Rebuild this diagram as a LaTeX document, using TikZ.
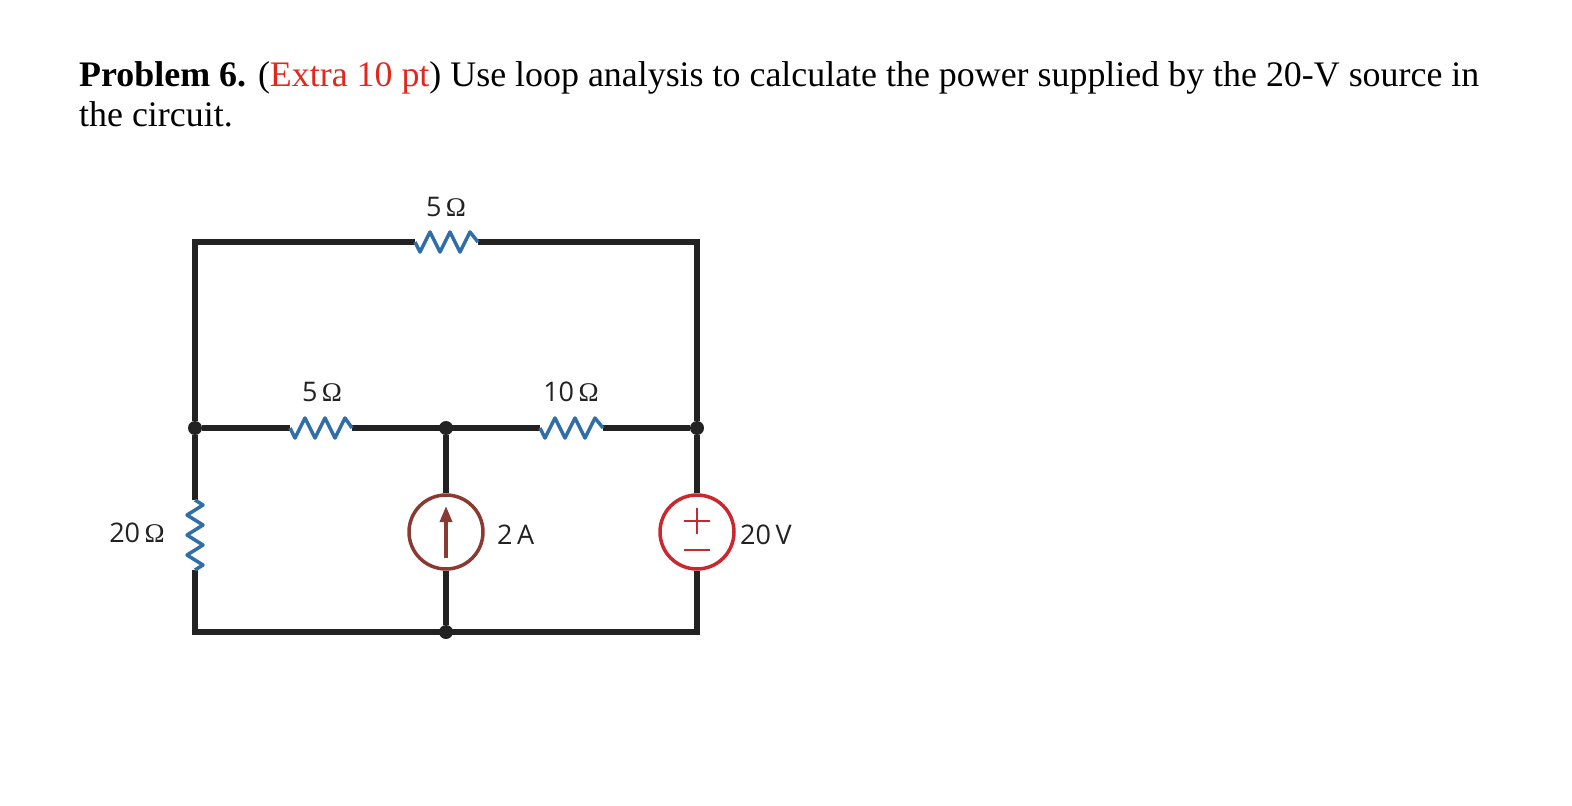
\documentclass[tikz,border=0pt]{standalone}
\usepackage{fontspec}
\setmainfont{Liberation Serif}
\newfontfamily\lab{Open Sans}
\usetikzlibrary{arrows.meta}
\definecolor{wireblk}{HTML}{222222}
\definecolor{resblue}{HTML}{2F6EA8}
\definecolor{isrc}{HTML}{8B3A32}
\definecolor{vsrc}{HTML}{C8282E}
\definecolor{hdrred}{HTML}{E0281E}
\begin{document}
\begin{tikzpicture}[x=1pt,y=-1pt,
  wire/.style={draw=wireblk,line width=5.5pt},
  res/.style={draw=resblue,line width=3.5pt,line join=round},
  dotn/.style={circle,fill=wireblk,inner sep=0pt,minimum size=14pt},
  lbl/.style={font=\lab\fontsize{27}{30}\selectfont,text=wireblk,inner sep=0pt}]
\useasboundingbox (0,0) rectangle (1572,806);
\node[anchor=base west,inner sep=0pt,font=\fontsize{35.9}{43}\selectfont] (hd) at (79,86) {\textbf{Problem 6.} ({\color{hdrred}Extra 10 pt}) Use loop analysis to calculate the power supplied by the 20-V source in};
\node[anchor=base west,inner sep=0pt,font=\fontsize{35.9}{43}\selectfont] (hd2) at (79,126) {the circuit.};
% nodes
\coordinate (TL) at (195,242); \coordinate (TR) at (697,242);
\node[dotn] (ML) at (195,428) {}; \node[dotn] (MM) at (446,428) {}; \node[dotn] (MR) at (697,428) {};
\coordinate (BL) at (195,632); \node[dotn] (BM) at (446,632) {}; \coordinate (BR) at (697,632);
\node[circle,draw=isrc,line width=3.5pt,minimum size=74pt,inner sep=0pt] (I) at (446,532) {};
\node[circle,draw=vsrc,line width=3.5pt,minimum size=74pt,inner sep=0pt] (V) at (697,532) {};
% resistor endpoints
\coordinate (r1a) at (415,242); \coordinate (r1b) at (478,242);
\coordinate (r2a) at (290,428); \coordinate (r2b) at (352,428);
\coordinate (r3a) at (540,428); \coordinate (r3b) at (603,428);
\coordinate (r4a) at (195,500); \coordinate (r4b) at (195,570);
% wires
\draw[wire] (r1a) -- (TL) -- (ML) -- (r4a);
\draw[wire] (r4b) -- (BL) -- (BR) -- (V.south);
\draw[wire] (r1b) -- (TR) -- (MR) -- (V.north);
\draw[wire] (ML) -- (r2a); \draw[wire] (r2b) -- (r3a); \draw[wire] (r3b) -- (MR);
\draw[wire] (MM) -- (I.north); \draw[wire] (I.south) -- (BM);
% resistors
\foreach \a/\b in {r1a/r1b,r2a/r2b,r3a/r3b}{
  \draw[res] (\a) -- ++(5,10) -- ++(10,-20) -- ++(10,20) -- ++(10,-20) -- ++(10,20) -- ++(10,-20) -- (\b);
}
\draw[res] (r4a) -- ++(8,5) -- ++(-16,10) -- ++(16,10) -- ++(-16,10) -- ++(16,10) -- ++(-16,10) -- ++(16,10) -- (r4b);
% source symbols
\draw[isrc,line width=3.5pt,-{Triangle[length=16pt,width=12pt]}] ([yshift=-26pt]I.center) coordinate (ia) -- ([yshift=26pt]I.center) coordinate (ib);
\draw[vsrc,line width=2pt] ([shift={(-13,-11)}]V.center) coordinate (p1) -- ([shift={(13,-11)}]V.center) coordinate (p2);
\draw[vsrc,line width=2pt] ([shift={(0,-24)}]V.center) coordinate (p3) -- ([shift={(0,2)}]V.center) coordinate (p4);
\draw[vsrc,line width=2pt] ([shift={(-13,18)}]V.center) coordinate (m1) -- ([shift={(13,18)}]V.center) coordinate (m2);
% labels
\node[lbl] (l1) at (446,207) {5\,\textrm{Ω}};
\node[lbl] (l2) at (322,392) {5\,\textrm{Ω}};
\node[lbl] (l3) at (571,392) {10\,\textrm{Ω}};
\node[lbl] (l4) at (137,533) {20\,\textrm{Ω}};
\node[lbl,anchor=west] (l5) at (497,535) {2\,A};
\node[lbl,anchor=west] (l6) at (740,535) {20\,V};
\end{tikzpicture}
\end{document}
